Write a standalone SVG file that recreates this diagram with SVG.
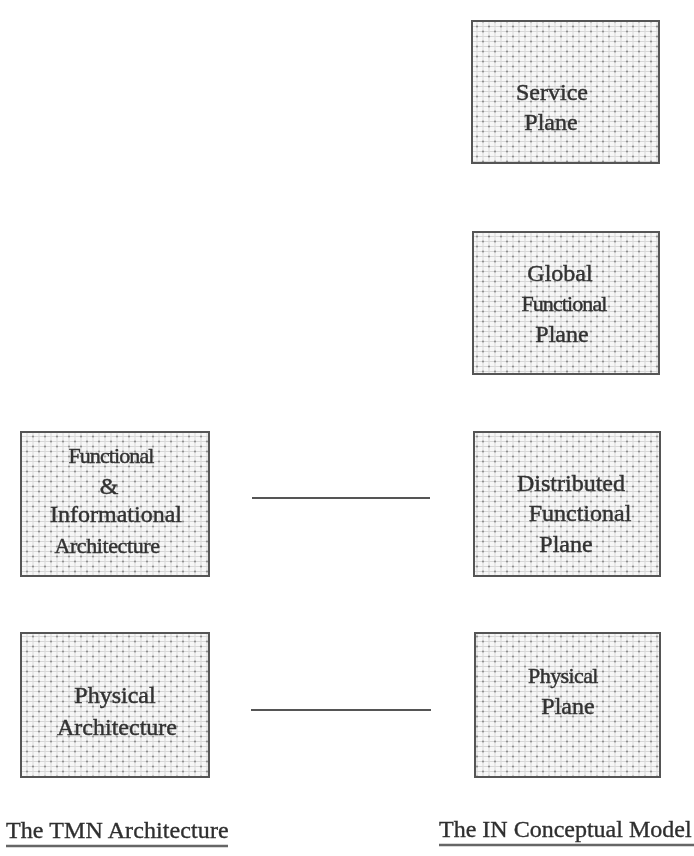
<svg xmlns="http://www.w3.org/2000/svg" width="694" height="856" viewBox="0 0 694 856">
<defs>
<pattern id="dots" width="12" height="10" patternUnits="userSpaceOnUse">
<rect width="12" height="10" fill="#f7f7f7"/>
<path d="M0 1.5H12M0 6.5H12M3 0V10M9 0V10" stroke="#d8d8d8" stroke-width="1"/>
<circle cx="3" cy="1.5" r="1.1" fill="#8f8f8f"/><circle cx="9" cy="6.5" r="1.1" fill="#8f8f8f"/>
</pattern>
<filter id="soft" x="-5%" y="-5%" width="110%" height="110%"><feGaussianBlur stdDeviation="0.6"/></filter>
</defs>
<style>
.box{fill:url(#dots);stroke:#555;stroke-width:2}
.t{font-family:"Liberation Serif","Times New Roman",serif;font-size:24px;fill:#333;text-anchor:middle;stroke:#333;stroke-width:.45}
.s{font-size:22px}
.cap{font-family:"Liberation Serif","Times New Roman",serif;font-size:24px;fill:#2f2f2f;stroke:#2f2f2f;stroke-width:.35}
.link{stroke:#555;stroke-width:2;fill:none}
.rule{stroke:#666;stroke-width:2.5;fill:none}
</style>
<rect width="694" height="856" fill="#fff"/>
<g filter="url(#soft)">
<g id="service-plane"><rect class="box" x="472" y="21" width="187" height="142"/><text class="t" x="552" y="100">Service</text><text class="t" x="551" y="130">Plane</text></g>
<g id="global-functional-plane"><rect class="box" x="473" y="232" width="186" height="142"/><text class="t" x="560" y="281">Global</text><text class="t s" x="564" y="311" letter-spacing="-.9">Functional</text><text class="t" x="562" y="342">Plane</text></g>
<g id="distributed-functional-plane"><rect class="box" x="474" y="432" width="186" height="144"/><text class="t" x="571" y="491">Distributed</text><text class="t" x="580" y="521">Functional</text><text class="t" x="566" y="552">Plane</text></g>
<g id="physical-plane"><rect class="box" x="475" y="633" width="185" height="144"/><text class="t s" x="563" y="683" letter-spacing="-.6">Physical</text><text class="t" x="568" y="714">Plane</text></g>
<g id="functional-informational-architecture"><rect class="box" x="21" y="432" width="188" height="144"/><text class="t s" x="111" y="463" letter-spacing="-.9">Functional</text><text class="t" x="109" y="494">&amp;</text><text class="t" x="116" y="522">Informational</text><text class="t s" x="107" y="553" letter-spacing="-.4">Architecture</text></g>
<g id="physical-architecture"><rect class="box" x="21" y="633" width="188" height="144"/><text class="t" x="115" y="703">Physical</text><text class="t" x="117" y="735">Architecture</text></g>
<g id="connectors"><path class="link" d="M252 498H430"/><path class="link" d="M251 710H431"/></g>
<g id="captions">
<text class="cap" x="6" y="838" letter-spacing=".1">The TMN Architecture</text><path class="rule" d="M6 846H228"/>
<text class="cap" x="439" y="837">The IN Conceptual Model</text><path class="rule" d="M439 845H694"/>
</g>
</g>
</svg>
